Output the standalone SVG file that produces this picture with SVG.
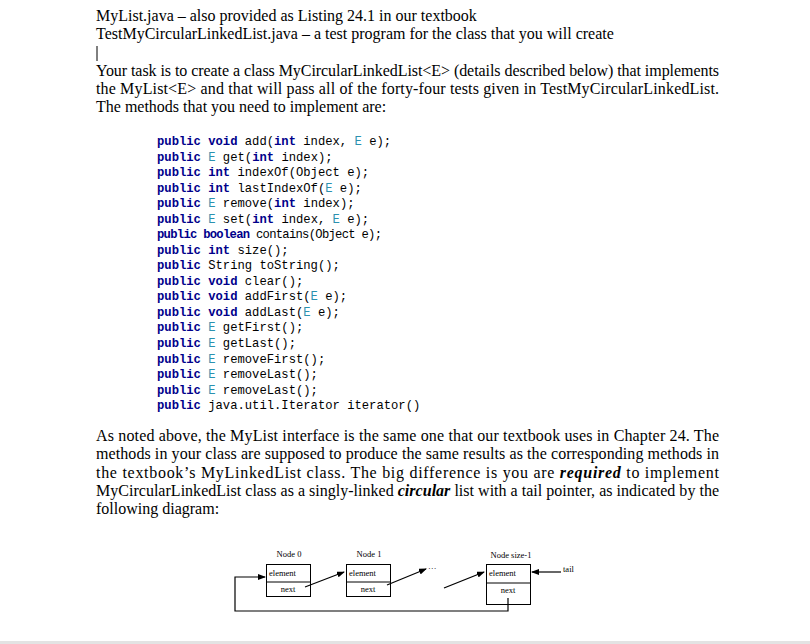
<svg xmlns="http://www.w3.org/2000/svg" width="810" height="644" viewBox="0 0 810 644">
<style>
.t{font-family:"Liberation Serif",serif;font-size:16px;fill:#000}
.c{font-family:"Liberation Mono",monospace;font-size:12.2px;fill:#000}
.k{fill:#00008b;font-weight:bold}
.e{fill:#2b91af}
.s{font-family:"Liberation Serif",serif;font-size:8.5px;fill:#000}
.b{fill:#fff;stroke:#000;stroke-width:1}
.l{fill:none;stroke:#000;stroke-width:1.2}
</style>
<defs><marker id="a" markerWidth="8" markerHeight="6" refX="7" refY="3" orient="auto" markerUnits="userSpaceOnUse"><path d="M0,0L8,3L0,6z" fill="#000"/></marker></defs>
<rect width="810" height="644" fill="#fff"/>
<rect y="641" width="810" height="3" fill="#e3e3e3"/>
<g id="text">
<text class="t" x="96" y="21">MyList.java – also provided as Listing 24.1 in our textbook</text>
<text class="t" x="96" y="39">TestMyCircularLinkedList.java – a test program for the class that you will create</text>
<line x1="97" y1="46" x2="97" y2="61" stroke="#000" stroke-width="1"/>
<text class="t" x="96" y="76" textLength="623" lengthAdjust="spacing">Your task is to create a class MyCircularLinkedList&lt;E&gt; (details described below) that implements</text>
<text class="t" x="96" y="94" textLength="623" lengthAdjust="spacing">the MyList&lt;E&gt; and that will pass all of the forty-four tests given in TestMyCircularLinkedList.</text>
<text class="t" x="96" y="112">The methods that you need to implement are:</text>
</g>
<g id="code" class="c">
<text x="157" y="145"><tspan class="k">public void</tspan> add(<tspan class="k">int</tspan> index, <tspan class="e">E</tspan> e);</text>
<text x="157" y="161"><tspan class="k">public</tspan> <tspan class="e">E</tspan> get(<tspan class="k">int</tspan> index);</text>
<text x="157" y="176"><tspan class="k">public int</tspan> indexOf(Object e);</text>
<text x="157" y="192"><tspan class="k">public int</tspan> lastIndexOf(<tspan class="e">E</tspan> e);</text>
<text x="157" y="207"><tspan class="k">public</tspan> <tspan class="e">E</tspan> remove(<tspan class="k">int</tspan> index);</text>
<text x="157" y="223"><tspan class="k">public</tspan> <tspan class="e">E</tspan> set(<tspan class="k">int</tspan> index, <tspan class="e">E</tspan> e);</text>
<text x="157" y="238" textLength="225"><tspan class="k">public boolean</tspan> contains(Object e);</text>
<text x="157" y="254"><tspan class="k">public int</tspan> size();</text>
<text x="157" y="269"><tspan class="k">public</tspan> String toString();</text>
<text x="157" y="285"><tspan class="k">public void</tspan> clear();</text>
<text x="157" y="300"><tspan class="k">public void</tspan> addFirst(<tspan class="e">E</tspan> e);</text>
<text x="157" y="316"><tspan class="k">public void</tspan> addLast(<tspan class="e">E</tspan> e);</text>
<text x="157" y="331"><tspan class="k">public</tspan> <tspan class="e">E</tspan> getFirst();</text>
<text x="157" y="347"><tspan class="k">public</tspan> <tspan class="e">E</tspan> getLast();</text>
<text x="157" y="363"><tspan class="k">public</tspan> <tspan class="e">E</tspan> removeFirst();</text>
<text x="157" y="378"><tspan class="k">public</tspan> <tspan class="e">E</tspan> removeLast();</text>
<text x="157" y="394"><tspan class="k">public</tspan> <tspan class="e">E</tspan> removeLast();</text>
<text x="157" y="409"><tspan class="k">public</tspan> java.util.Iterator iterator()</text>
</g>
<g id="text2">
<text class="t" x="96" y="441" textLength="623" lengthAdjust="spacing">As noted above, the MyList interface is the same one that our textbook uses in Chapter 24.  The</text>
<text class="t" x="96" y="459" textLength="623" lengthAdjust="spacing">methods in your class are supposed to produce the same results as the corresponding methods in</text>
<text class="t" x="96" y="478" textLength="623" lengthAdjust="spacing">the textbook’s MyLinkedList class.  The big difference is you are <tspan font-weight="bold" font-style="italic">required</tspan> to implement</text>
<text class="t" x="96" y="496" textLength="623" lengthAdjust="spacing">MyCircularLinkedList class as a singly-linked <tspan font-weight="bold" font-style="italic">circular</tspan> list with a tail pointer, as indicated by the</text>
<text class="t" x="96" y="514">following diagram:</text>
</g>
<g id="node0">
<text class="s" x="289" y="557" text-anchor="middle">Node 0</text>
<rect class="b" x="266.5" y="564.5" width="44" height="32"/><line x1="266.5" y1="582" x2="310.5" y2="582" stroke="#000"/>
<text class="s" x="269" y="576">element</text><text class="s" x="288" y="592" text-anchor="middle">next</text>
</g>
<g id="node1">
<text class="s" x="369" y="557" text-anchor="middle">Node 1</text>
<rect class="b" x="346.5" y="564.5" width="44" height="32"/><line x1="346.5" y1="582" x2="390.5" y2="582" stroke="#000"/>
<text class="s" x="349" y="576">element</text><text class="s" x="368" y="592" text-anchor="middle">next</text>
</g>
<g id="nodeN">
<text class="s" x="511" y="558" text-anchor="middle">Node size-1</text>
<rect class="b" x="486.5" y="564.5" width="44" height="40"/><line x1="486.5" y1="583" x2="530.5" y2="583" stroke="#000"/>
<text class="s" x="489" y="576">element</text><text class="s" x="508" y="593" text-anchor="middle">next</text>
</g>
<g id="tail"><text class="s" x="563" y="572">tail</text></g>
<g id="dots"><text class="s" x="428" y="569">…</text></g>
<g id="connectors">
<line class="l" x1="305" y1="587" x2="344" y2="572" marker-end="url(#a)"/>
<line class="l" x1="387" y1="585" x2="426" y2="569" marker-end="url(#a)"/>
<line class="l" x1="444" y1="588" x2="484" y2="572" marker-end="url(#a)"/>
<line class="l" x1="561" y1="572" x2="532" y2="572" marker-end="url(#a)"/>
<path class="l" d="M508,598V611H235V577H265" marker-end="url(#a)"/>
</g>
</svg>
